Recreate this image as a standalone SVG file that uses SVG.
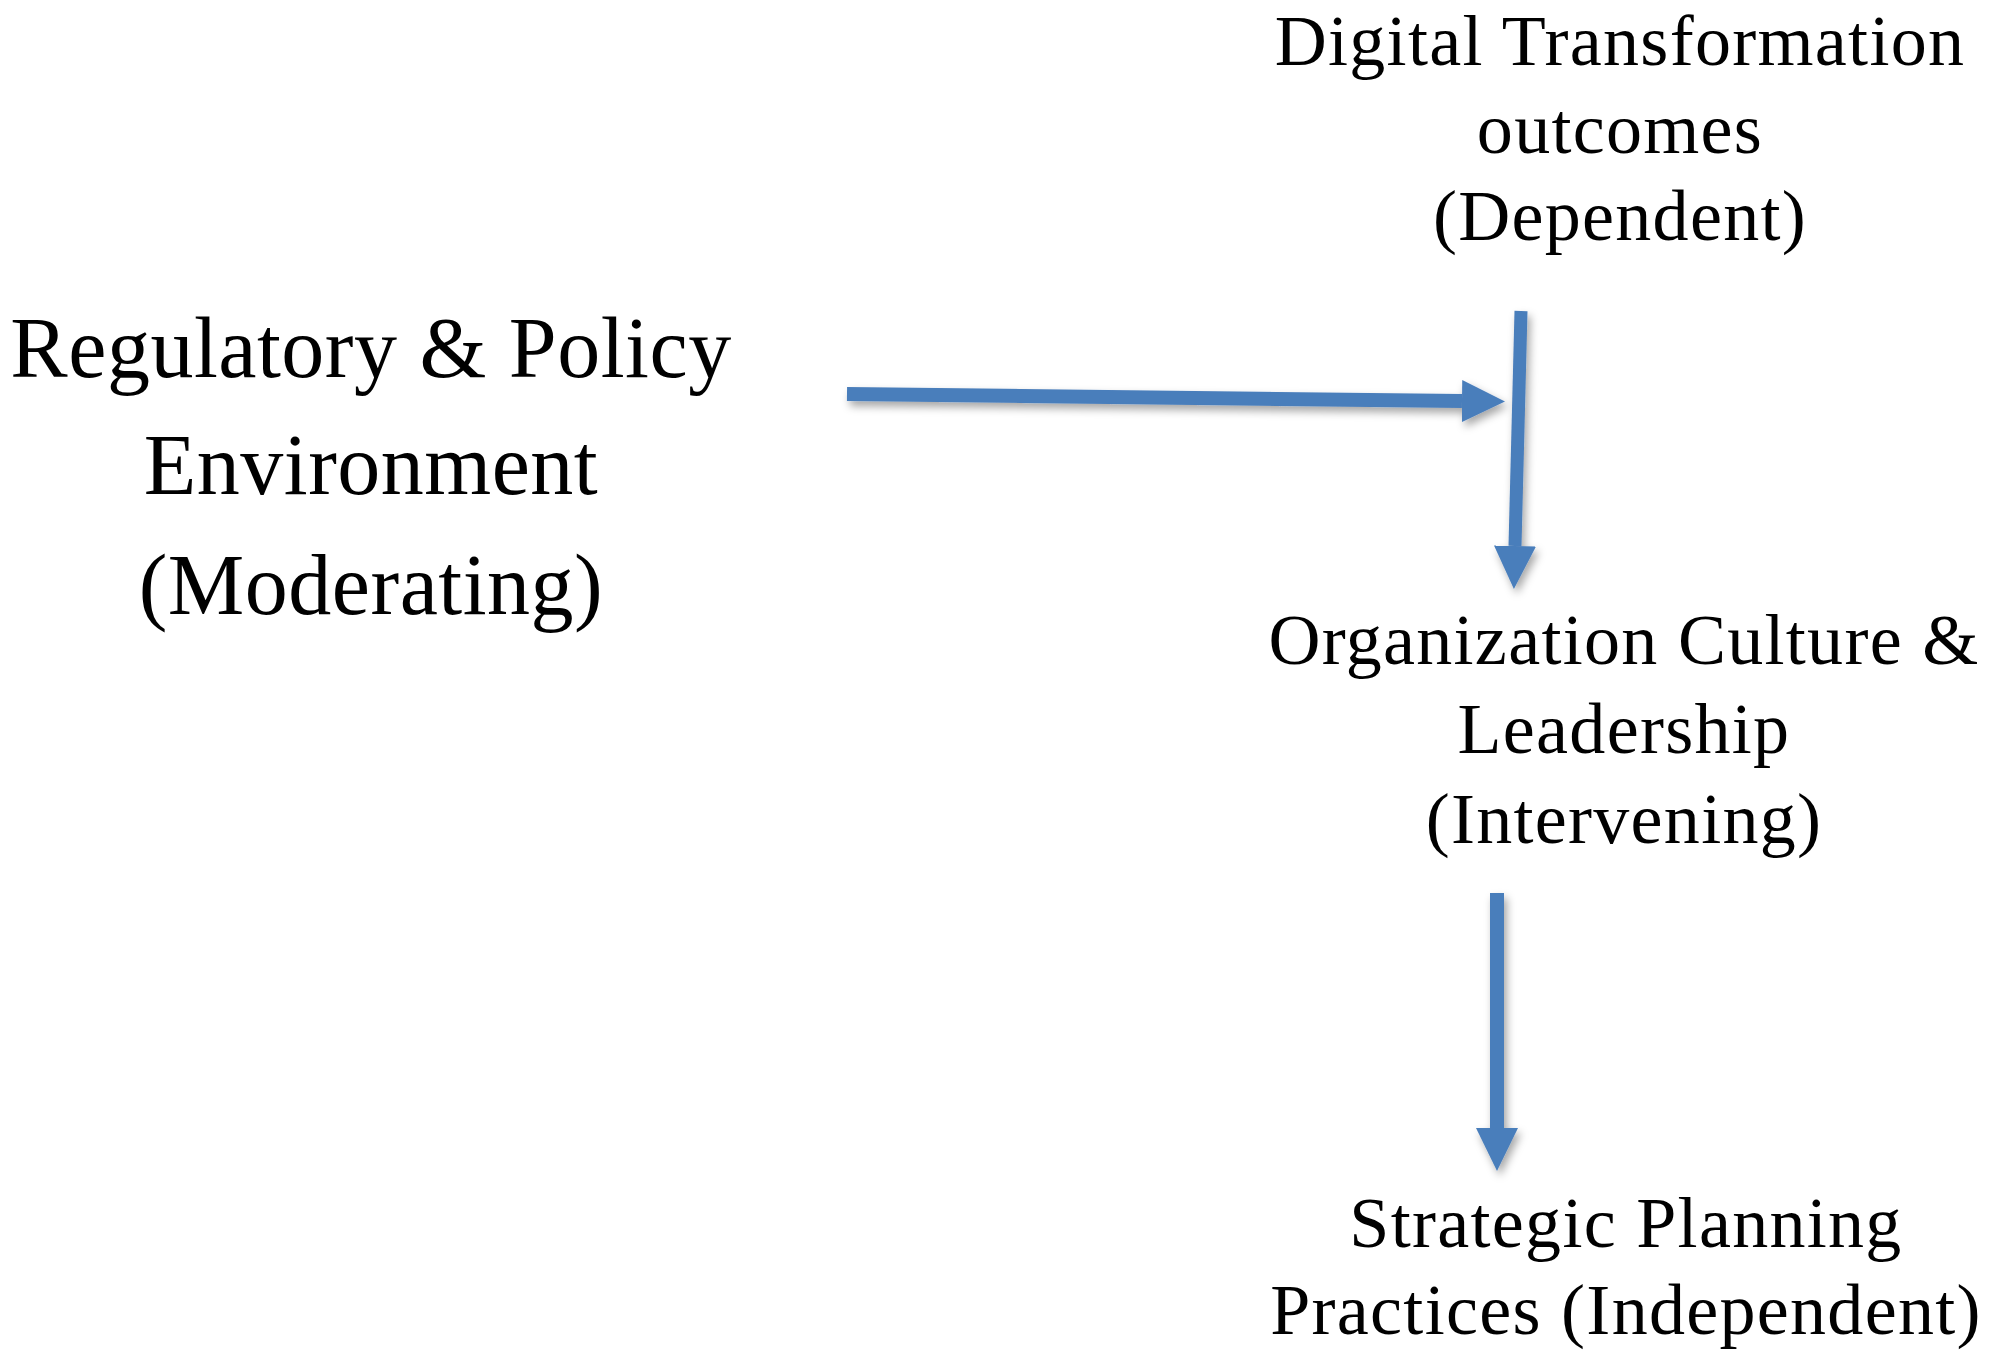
<svg xmlns="http://www.w3.org/2000/svg" width="2000" height="1362" viewBox="0 0 2000 1362">
<style>
  text { font-family: "Liberation Serif", "Times New Roman", serif; fill: #000; text-anchor: middle; }
  .big { font-size: 86px; letter-spacing: 0.5px; }
  .mid { font-size: 72px; letter-spacing: 1.3px; }
  .conn { stroke: #4A7EBB; fill: none; stroke-linecap: butt; }
</style>
<defs>
  <filter id="shadow" x="-20%" y="-20%" width="140%" height="140%">
    <feDropShadow dx="3" dy="5" stdDeviation="4" flood-color="#000" flood-opacity="0.35"/>
  </filter>
  <marker id="head" markerUnits="userSpaceOnUse" markerWidth="44" markerHeight="44" refX="0" refY="21" orient="auto">
    <path d="M0,0 L43,21 L0,42 Z" fill="#4A7EBB"/>
  </marker>
</defs>
<rect width="2000" height="1362" fill="#fff"/>

<g id="connectors" filter="url(#shadow)">
  <line class="conn" x1="847" y1="394" x2="1462" y2="401" stroke-width="14" marker-end="url(#head)"/>
  <line class="conn" x1="1521" y1="311" x2="1515" y2="546" stroke-width="13" marker-end="url(#head)"/>
  <line class="conn" x1="1497" y1="893" x2="1497" y2="1128" stroke-width="14" marker-end="url(#head)"/>
</g>

<g id="node-regulatory">
  <text class="big" x="371" y="377">Regulatory &amp; Policy</text>
  <text class="big" x="371" y="494">Environment</text>
  <text class="big" x="371" y="614">(Moderating)</text>
</g>

<g id="node-digital">
  <text class="mid" x="1620" y="65">Digital Transformation</text>
  <text class="mid" x="1620" y="153">outcomes</text>
  <text class="mid" x="1620" y="240">(Dependent)</text>
</g>

<g id="node-culture">
  <text class="mid" x="1624" y="664">Organization Culture &amp;</text>
  <text class="mid" x="1624" y="753">Leadership</text>
  <text class="mid" x="1624" y="843">(Intervening)</text>
</g>

<g id="node-strategic">
  <text class="mid" x="1626" y="1247">Strategic Planning</text>
  <text class="mid" x="1626" y="1334">Practices (Independent)</text>
</g>
</svg>
